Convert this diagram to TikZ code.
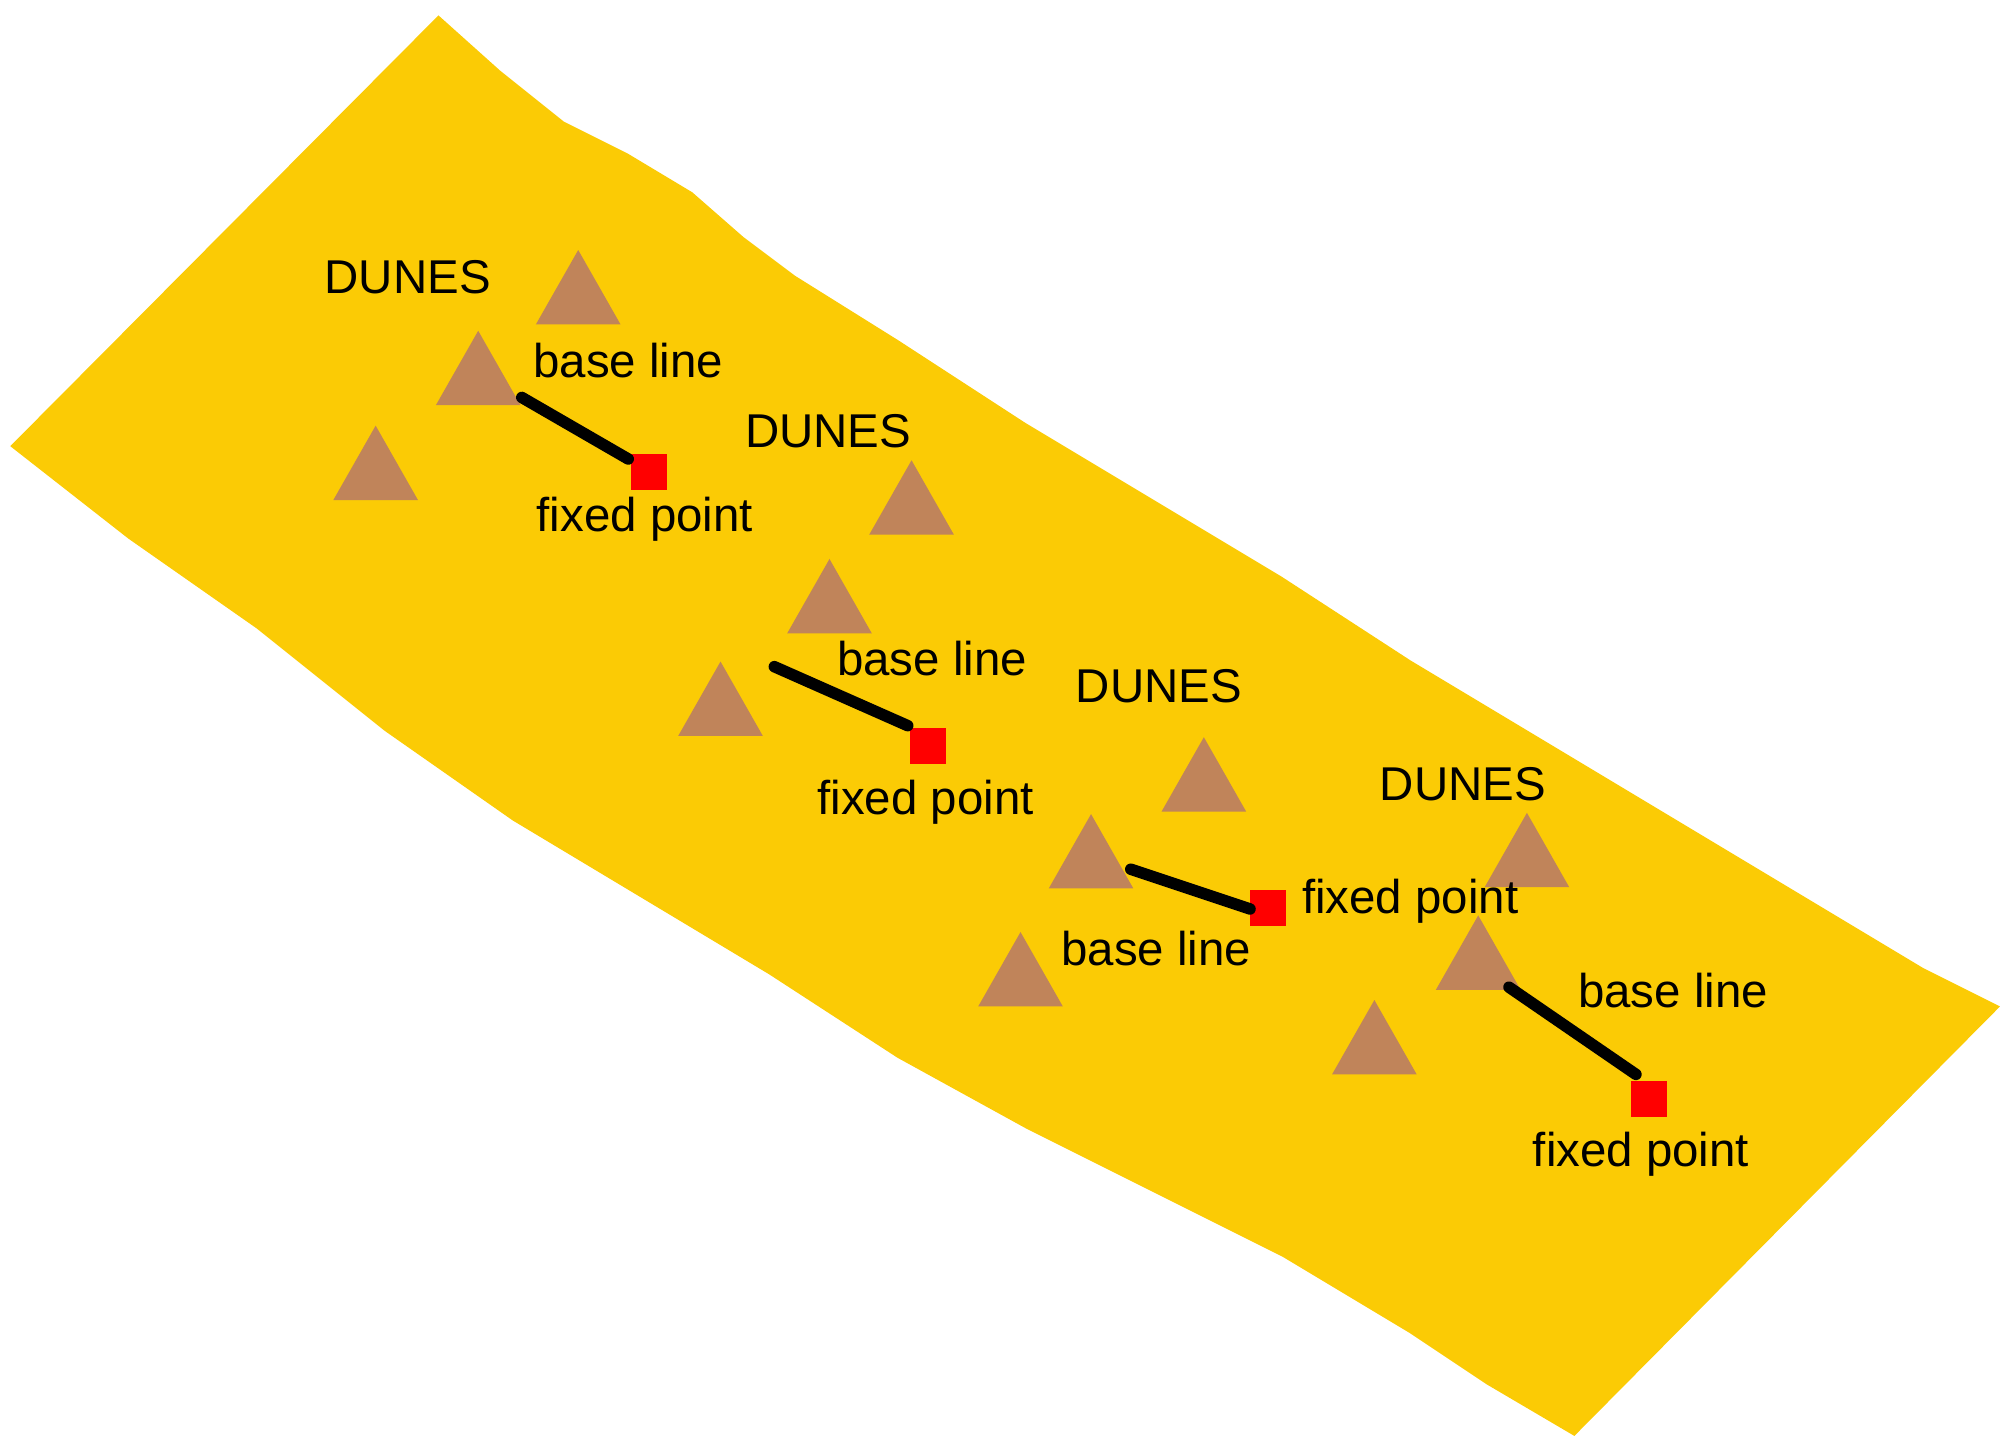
\documentclass[tikz,border=0pt]{standalone}
\usepackage{fontspec}
\setmainfont{Liberation Sans}
\begin{document}
\begin{tikzpicture}[x=1pt,y=-1pt,
  dune/.style={fill=duneC,draw=none},
  fp/.style={fill=red,draw=none,minimum size=28pt,inner sep=0pt},
  lbl/.style={font=\fontsize{37}{39}\selectfont,inner sep=0pt},
  bl/.style={line width=9pt,line cap=round}]
\definecolor{sand}{HTML}{FBCB05}
\definecolor{duneC}{HTML}{C0845A}
\useasboundingbox (0,0) rectangle (1560,1125);
\fill[sand] (342,12) -- (390,55) -- (440,95) -- (490,120) -- (540,150) -- (580,185) -- (620,215) -- (700,265) -- (800,330) -- (900,390) -- (1000,450) -- (1100,515) -- (1200,575) -- (1300,635) -- (1400,695) -- (1500,755) -- (1560,785)
 -- (1228,1120) -- (1160,1080) -- (1100,1040) -- (1000,980) -- (900,930) -- (800,880) -- (700,825) -- (600,760) -- (500,700) -- (400,640) -- (300,570) -- (200,490) -- (100,420) -- (8,348) -- cycle;
\foreach \x/\y in {451/195,373/258,293/332,711/359,647/436,562/516,939/575,851/635,1191/634,1153/714,796/727,1072/780}
  \fill[dune] (\x,\y) -- (\x-33,\y+58) -- (\x+33,\y+58) -- cycle;
\node[fp] (f1) at (506,368) {};
\node[fp] (f2) at (724,582) {};
\node[fp] (f3) at (989,708) {};
\node[fp] (f4) at (1286,857) {};
\coordinate (s1) at (407,310);
\coordinate (s2) at (604,520);
\coordinate (s3) at (882,678);
\coordinate (s4) at (1177,770);
\draw[bl] (s1) -- (490,358);
\draw[bl] (s2) -- (708,566);
\draw[bl] (s3) -- (975,709);
\draw[bl] (s4) -- (1276,838);
\node[lbl] (d1) at (318,216) {DUNES};
\node[lbl] (d2) at (646,336) {DUNES};
\node[lbl] (d3) at (904,535) {DUNES};
\node[lbl] (d4) at (1141,612) {DUNES};
\node[lbl] (b1) at (490,281) {base line};
\node[lbl] (b2) at (727,514) {base line};
\node[lbl] (b3) at (902,740) {base line};
\node[lbl] (b4) at (1305,773) {base line};
\node[lbl] (t1) at (503,405) {fixed point};
\node[lbl] (t2) at (722,626) {fixed point};
\node[lbl] (t3) at (1100,703) {fixed point};
\node[lbl] (t4) at (1280,900) {fixed point};
\end{tikzpicture}
\end{document}
